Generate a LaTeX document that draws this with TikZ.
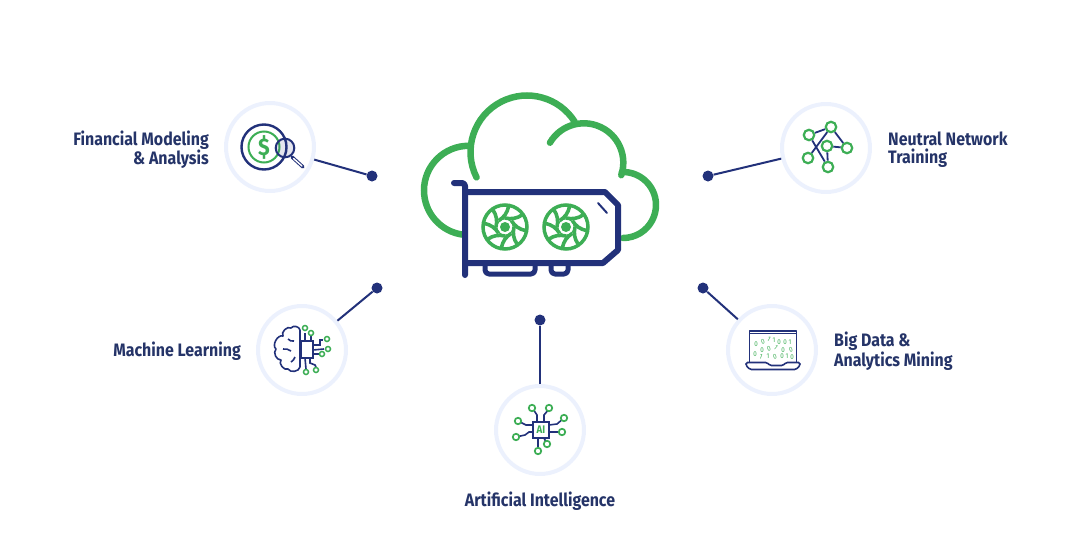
\documentclass[tikz,border=0pt]{standalone}
\usepackage{fontspec}
\usepackage{xcolor}
\setmainfont{Fira Sans}[FakeStretch=0.885]
\definecolor{navy}{HTML}{22317A}
\definecolor{leaf}{HTML}{3DAE55}
\definecolor{halo}{HTML}{ECF1FD}
\definecolor{ink}{HTML}{253468}
\tikzset{
  topic/.style={circle, draw=halo, fill=white, line width=4pt, minimum size=88pt, inner sep=0pt},
  dot/.style={circle, fill=navy, minimum size=11pt, inner sep=0pt},
  link/.style={draw=navy, line width=2pt},
  lbl/.style={text=ink, font=\bfseries\fontsize{18}{18}\selectfont, inner sep=0pt},
  net/.style={circle, draw=leaf, fill=white, line width=2.2pt, minimum size=10.5pt, inner sep=0pt},
  pin/.style={circle, draw=leaf, fill=white, line width=1.7pt, minimum size=6.5pt, inner sep=0pt},
  wire/.style={draw=navy, line width=1.6pt},
  bit/.style={text=leaf, font=\fontsize{7}{7}\selectfont, inner sep=0pt}
}
\begin{document}
\begin{tikzpicture}[x=1pt, y=-1pt]
  \useasboundingbox (0,0) rectangle (1080,560);

  % Define the nodes
  \node[topic] (finance) at (270,147) {};
  \node[topic] (machine) at (302,350) {};
  \node[topic] (ai) at (540,430) {};
  \node[topic] (bigdata) at (772,350) {};
  \node[topic] (neural) at (826,148) {};
  \node[dot] (dotfin) at (372,176) {};
  \node[dot] (dotml) at (377,288) {};
  \node[dot] (dotai) at (540,320) {};
  \node[dot] (dotbig) at (703,288) {};
  \node[dot] (dotnn) at (708,176) {};

  % Draw the links
  \draw[link] (finance) -- (dotfin);
  \draw[link] (machine) -- (dotml);
  \draw[link] (ai) -- (dotai);
  \draw[link] (bigdata) -- (dotbig);
  \draw[link] (neural) -- (dotnn);

  % Labels
  \node[lbl, align=right, anchor=east] (lblfin) at (209,149.5) {Financial Modeling\\\& Analysis};
  \node[lbl, anchor=east] (lblml) at (241,351) {Machine Learning};
  \node[lbl] (lblai) at (540,501) {Artificial Intelligence};
  \node[lbl, align=left, anchor=west] (lblbig) at (834,351) {Big Data \&\\Analytics Mining};
  \node[lbl, align=left, anchor=west] (lblnn) at (888,149.5) {Neutral Network\\Training};

  % Cloud
  \begin{scope}[draw=leaf, line width=6.5pt, line cap=round]
    \draw (468.6,190.4) ++(-90:44.6) arc[start angle=-90, end angle=-263, radius=44.6];
    \draw (527,152) ++(153.3:56.5) arc[start angle=153.3, end angle=327.7, radius=56.5];
    \draw (583.9,162.7) ++(210.5:39.4) arc[start angle=210.5, end angle=378.5, radius=39.4];
    \draw (623,205) ++(-92:33) arc[start angle=-92, end angle=90, radius=33];
  \end{scope}

  % Graphics card
  \begin{scope}[draw=navy, line width=6pt, line cap=round, line join=round]
    \draw[rounded corners=3pt] (454,183) -- (465,183) -- (465,275);
    \draw (465,192) -- (605,192) -- (618,205) -- (618,250) -- (603,263) -- (465,263);
    \draw[line width=5pt, rounded corners=4pt] (485,263) -- (485,274) -- (535,274) -- (535,263);
    \draw[line width=5pt, rounded corners=4pt] (551,263) -- (551,274) -- (568,274) -- (568,263);
    \draw[line width=2pt] (598,203) -- (607,213);
  \end{scope}

  % Fans
  \foreach \fx in {505,566} {
    \begin{scope}[shift={(\fx,227)}]
      \draw[leaf, line width=3.5pt] (0,0) circle (22);
      \fill[leaf] (0,0) circle (5);
      \draw[leaf, line width=1.2pt] (0,0) circle (8.2);
      \foreach \a in {0,45,...,315}
        \draw[leaf, line width=3.6pt] (\a:9) to[bend right=22] (\a+55:21);
    \end{scope}
  }

  % Financial icon
  \draw[navy, line width=2.4pt] (264,147) circle (22.5);
  \draw[leaf, line width=2pt] (264,147) circle (15.5);
  \node[text=leaf, font=\bfseries\fontsize{24}{24}\selectfont, inner sep=0pt] (dollar) at (264,147) {\$};
  \draw[navy, line width=3.4pt, line cap=round] (292,157) -- (303,167);
  \draw[white, line width=1.4pt, line cap=round] (293.5,158.5) -- (302,166);
  \draw[navy, line width=2pt, fill=navy, fill opacity=.12] (285,148) circle (9.3);

  % Brain icon
  \draw[wire, line join=round] (300,330) to[bend right=70] (291,328) to[bend right=80] (283,336)
    to[bend right=80] (276,349) to[bend right=70] (281,360) to[bend right=80] (288,369) to[bend right=70] (300,367) -- cycle;
  \draw[wire] (288,339) to[bend right=30] (294,341) (283,349) to[bend left=20] (291,351) (295,357) to[bend left=20] (291,362);
  \draw[wire, fill=white] (301,341) rectangle (313,358);
  \draw[wire] (305,341) -- (305,333);
  \draw[wire] (311,341) -- (311,336);
  \draw[wire] (313,345) -- (320,345) -- (320,340) -- (323,340);
  \draw[wire] (313,350) -- (324,349);
  \draw[wire] (313,354) -- (319,354);
  \draw[wire] (305,358) -- (306,369);
  \draw[wire] (310,358) -- (310,363) -- (315,365) -- (316,367);
  \foreach \px/\py [count=\i] in {305/328, 311/333, 327/339, 328/349, 322/354, 306/372, 316/370}
    \node[pin, minimum size=5pt, line width=1.5pt] (mlpin\i) at (\px,\py) {};

  % AI icon
  \draw[wire] (518,421) -- (526,425) -- (533,425);
  \draw[wire] (516,437) -- (525,435) -- (529,432) -- (533,432);
  \draw[wire] (533,409) -- (537,415) -- (537,422);
  \draw[wire] (549,409) -- (544,415) -- (544,422);
  \draw[wire] (564,418) -- (557,424) -- (549,425);
  \draw[wire] (562,432) -- (549,432);
  \draw[wire] (547,444) -- (544,438);
  \draw[wire] (538,451) -- (538,438);
  \draw[navy, line width=1.8pt, fill=white] (533,422) rectangle (549,438);
  \node[text=leaf, font=\bfseries\fontsize{11}{11}\selectfont, inner sep=0pt] (chip) at (541,430) {AI};
  \foreach \px/\py [count=\i] in {532/408, 549/408, 564/418, 562/432, 547/444, 538/451, 516/437, 518/421}
    \node[pin] (aipin\i) at (\px,\py) {};

  % Laptop icon
  \draw[navy, line width=1.6pt, line join=round] (749.5,362) -- (749.5,331) -- (796.5,331) -- (796.5,362);
  \draw[navy, line width=.8pt] (750,333.5) -- (796,333.5);
  \draw[navy, line width=1.6pt, rounded corners=1.5pt] (746,362.5) -- (767,362.5) -- (770,365.5) -- (783,365.5) -- (786,362.5) -- (800,362.5)
    -- (800,365.5) -- (796,369.5) -- (750,369.5) -- (746,365.5) -- cycle;
  \foreach \px/\py/\dg/\rr [count=\i] in {756/344/0/0, 763/342/0/15, 769/339.5/1/-30, 774/340/1/0, 779/342.5/0/0, 785/342.5/0/0, 790/342.5/1/0,
    762/350/0/0, 769/349/0/15, 776/347.5/1/-40, 783/350.5/0/0, 791/349.5/0/15,
    755/354/0/0, 761/357/1/-20, 768/356/1/0, 775/356.5/0/15, 782/356.5/0/0, 787/356.5/1/0, 792/357/0/0}
    \node[bit, rotate=\rr] (bit\i) at (\px,\py) {\dg};

  % Network icon
  \node[net] (na) at (809,135) {};
  \node[net] (nb) at (831,127) {};
  \node[net] (nc) at (827,146) {};
  \node[net] (nd) at (847,148) {};
  \node[net] (ne) at (808,158) {};
  \node[net] (nf) at (828,167) {};
  \draw[wire, line width=1.8pt] (na) -- (nb);
  \draw[wire, line width=1.8pt] (nb) -- (nd);
  \draw[wire, line width=1.8pt] (nc) -- (nd);
  \draw[wire, line width=1.8pt] (nb) -- (ne);
  \draw[wire, line width=1.8pt] (na) -- (nf);
  \draw[wire, line width=1.8pt] (nc) -- (nf);
\end{tikzpicture}
\end{document}
